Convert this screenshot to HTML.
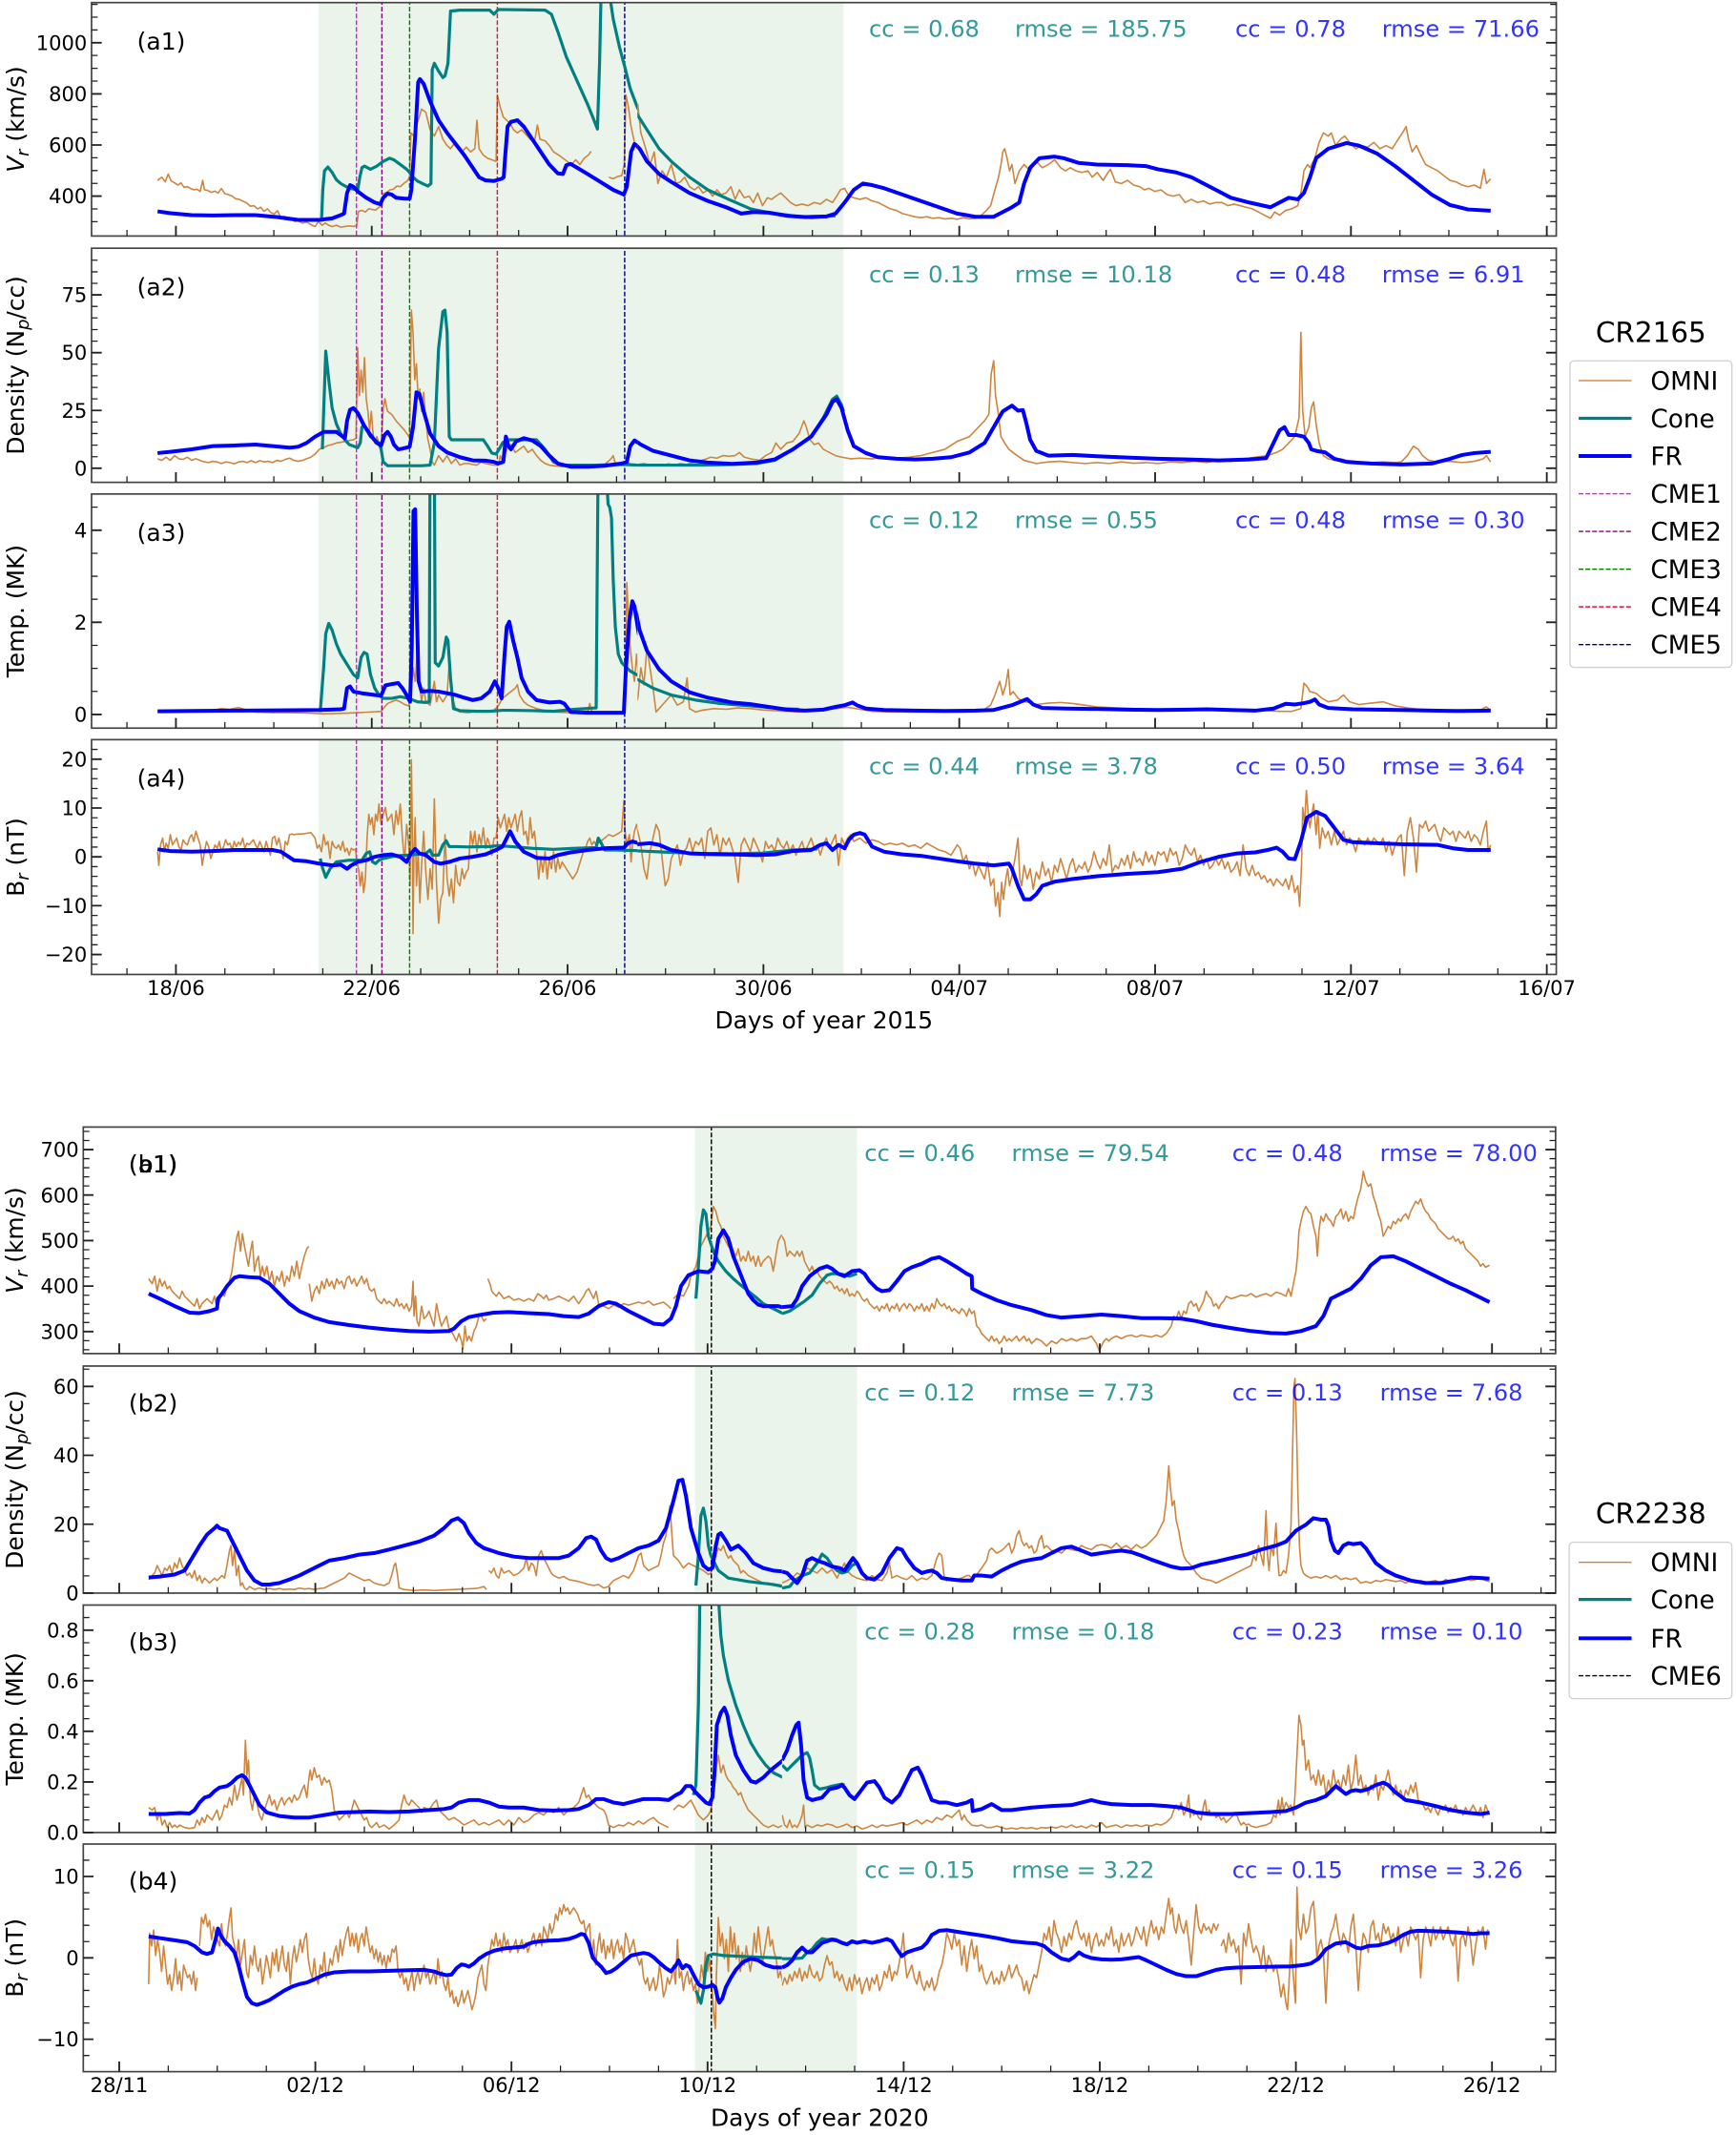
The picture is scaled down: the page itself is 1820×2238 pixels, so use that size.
<!DOCTYPE html>
<html><head><meta charset="utf-8">
<style>
html,body{margin:0;padding:0;background:#fff;}
svg{display:block;}
.o{fill:none;stroke:#CD853F;stroke-width:1.6;vector-effect:non-scaling-stroke;stroke-linejoin:round;}
.c{fill:none;stroke:#008080;stroke-width:3.2;vector-effect:non-scaling-stroke;stroke-linejoin:round;}
.f{fill:none;stroke:#0000FF;stroke-width:4;vector-effect:non-scaling-stroke;stroke-linejoin:round;}
.tl{font-size:14.8px;}
.st{font-size:17px;}
</style></head>
<body>
<svg width="1820" height="2238" viewBox="0 0 1280 1574" xmlns="http://www.w3.org/2000/svg" font-family="'DejaVu Sans','Liberation Sans',sans-serif">
<defs>
<clipPath id="cA1"><rect x="67.5" y="1.9" width="1080" height="172.1"/></clipPath>
<clipPath id="cA2"><rect x="67.5" y="183" width="1080" height="172.6"/></clipPath>
<clipPath id="cA3"><rect x="67.5" y="364.2" width="1080" height="172.6"/></clipPath>
<clipPath id="cA4"><rect x="67.5" y="545.3" width="1080" height="173.1"/></clipPath>
<clipPath id="cB1"><rect x="61.4" y="830.9" width="1085.6" height="167"/></clipPath>
<clipPath id="cB2"><rect x="61.4" y="1007.1" width="1085.6" height="167.4"/></clipPath>
<clipPath id="cB3"><rect x="61.4" y="1183.3" width="1085.6" height="167.7"/></clipPath>
<clipPath id="cB4"><rect x="61.4" y="1359.5" width="1085.6" height="167.8"/></clipPath>
<clipPath id="sL"><rect x="0" y="0" width="470" height="1574"/></clipPath>
<clipPath id="sR"><rect x="470" y="0" width="810" height="1574"/></clipPath>
<clipPath id="tL"><rect x="0" y="0" width="576.6" height="1574"/></clipPath>
<clipPath id="tR"><rect x="576.6" y="0" width="710" height="1574"/></clipPath>
<g id="cmeA" fill="none" stroke-width="1" stroke-dasharray="3.5 1.5">
<path d="M262.8 0V720" stroke="#FF00FF"/>
<path d="M281.6 0V720" stroke="#800080"/>
<path d="M302 0V720" stroke="#008000"/>
<path d="M366.7 0V720" stroke="#DC143C"/>
<path d="M460.6 0V720" stroke="#000080"/>
</g>
<path id="axM" stroke="#222" stroke-width="1.3" d="M129.7 0v-7.5M274.1 0v-7.5M418.5 0v-7.5M562.9 0v-7.5M707.3 0v-7.5M851.7 0v-7.5M996.1 0v-7.5M1140.5 0v-7.5"/>
<path id="axm" stroke="#222" stroke-width="0.9" d="M93.6 0v-4.5M165.8 0v-4.5M201.9 0v-4.5M238 0v-4.5M310.2 0v-4.5M346.3 0v-4.5M382.4 0v-4.5M454.6 0v-4.5M490.7 0v-4.5M526.8 0v-4.5M599 0v-4.5M635.1 0v-4.5M671.2 0v-4.5M743.4 0v-4.5M779.5 0v-4.5M815.6 0v-4.5M887.8 0v-4.5M923.9 0v-4.5M960 0v-4.5M1032.2 0v-4.5M1068.3 0v-4.5M1104.4 0v-4.5"/>
<path id="bxM" stroke="#222" stroke-width="1.3" d="M87.9 0v-7.5M232.5 0v-7.5M377.1 0v-7.5M521.7 0v-7.5M666.3 0v-7.5M810.9 0v-7.5M955.5 0v-7.5M1100.1 0v-7.5"/>
<path id="bxm" stroke="#222" stroke-width="0.9" d="M124.05 0v-4.5M160.2 0v-4.5M196.35 0v-4.5M268.65 0v-4.5M304.8 0v-4.5M340.95 0v-4.5M413.25 0v-4.5M449.4 0v-4.5M485.55 0v-4.5M557.85 0v-4.5M594 0v-4.5M630.15 0v-4.5M702.45 0v-4.5M738.6 0v-4.5M774.75 0v-4.5M847.05 0v-4.5M883.2 0v-4.5M919.35 0v-4.5M991.65 0v-4.5M1027.8 0v-4.5M1063.95 0v-4.5M1136.25 0v-4.5"/>
<path id="yaM" stroke="#222" stroke-width="1.3" d="M0 144.6h7.5M0 106.9h7.5M0 69.2h7.5M0 31.5h7.5M0 345.2h7.5M0 302.6h7.5M0 260h7.5M0 217.4h7.5M0 526.7h7.5M0 458.8h7.5M0 390.9h7.5M0 703.7h7.5M0 667.7h7.5M0 631.7h7.5M0 595.7h7.5M0 559.7h7.5"/>
<path id="yam" stroke="#222" stroke-width="0.9" d="M0 163.45h4.5M0 154h4.5M0 135.2h4.5M0 125.75h4.5M0 116.3h4.5M0 97.5h4.5M0 88.05h4.5M0 78.6h4.5M0 59.8h4.5M0 50.35h4.5M0 40.9h4.5M0 22.1h4.5M0 12.65h4.5M0 3.2h4.5M0 336.7h4.5M0 328.2h4.5M0 319.6h4.5M0 311.1h4.5M0 294.1h4.5M0 285.6h4.5M0 277h4.5M0 268.5h4.5M0 251.5h4.5M0 243h4.5M0 234.4h4.5M0 225.9h4.5M0 208.9h4.5M0 200.4h4.5M0 191.8h4.5M0 509.7h4.5M0 492.75h4.5M0 475.8h4.5M0 441.8h4.5M0 424.85h4.5M0 407.9h4.5M0 373.9h4.5M0 710.9h4.5M0 696.5h4.5M0 689.3h4.5M0 682.1h4.5M0 674.9h4.5M0 660.5h4.5M0 653.3h4.5M0 646.1h4.5M0 638.9h4.5M0 624.5h4.5M0 617.3h4.5M0 610.1h4.5M0 602.9h4.5M0 588.5h4.5M0 581.3h4.5M0 574.1h4.5M0 566.9h4.5M0 552.5h4.5"/>
<path id="ybM" stroke="#222" stroke-width="1.3" d="M0 981.7h7.5M0 948.15h7.5M0 914.6h7.5M0 881.05h7.5M0 847.5h7.5M0 1174.5h7.5M0 1123.7h7.5M0 1072.9h7.5M0 1022.1h7.5M0 1351h7.5M0 1313.7h7.5M0 1276.4h7.5M0 1239.1h7.5M0 1201.8h7.5M0 1503.4h7.5M0 1443.4h7.5M0 1383.4h7.5"/>
<path id="ybm" stroke="#222" stroke-width="0.9" d="M0 995.1h4.5M0 988.4h4.5M0 975h4.5M0 968.3h4.5M0 961.6h4.5M0 954.9h4.5M0 941.4h4.5M0 934.7h4.5M0 928h4.5M0 921.3h4.5M0 907.9h4.5M0 901.2h4.5M0 894.5h4.5M0 887.8h4.5M0 874.3h4.5M0 867.6h4.5M0 860.9h4.5M0 854.2h4.5M0 840.8h4.5M0 834.1h4.5M0 1161.8h4.5M0 1149.1h4.5M0 1136.4h4.5M0 1111h4.5M0 1098.3h4.5M0 1085.6h4.5M0 1060.2h4.5M0 1047.5h4.5M0 1034.8h4.5M0 1009.4h4.5M0 1341.7h4.5M0 1332.35h4.5M0 1323h4.5M0 1304.4h4.5M0 1295.05h4.5M0 1285.7h4.5M0 1267.1h4.5M0 1257.75h4.5M0 1248.4h4.5M0 1229.8h4.5M0 1220.45h4.5M0 1211.1h4.5M0 1192.5h4.5M0 1515.4h4.5M0 1491.4h4.5M0 1479.4h4.5M0 1467.4h4.5M0 1455.4h4.5M0 1431.4h4.5M0 1419.4h4.5M0 1407.4h4.5M0 1395.4h4.5M0 1371.4h4.5"/>
</defs>

<!-- ================= PANEL A1 ================= -->
<g clip-path="url(#cA1)">
<rect x="234.8" y="0" width="387.1" height="180" fill="#eaf4ea"/>
<g clip-path="url(#sL)"><g transform="matrix(0.31397 0 0 0.23326 0 0)">
<path class="o" d="M370,570L380,560 388,575 395,550 402,572 410,578 418,585 425,578 432,592 440,590 448,596 455,600 462,598 470,605 476,570 480,600 488,602 496,608 505,604 512,610 520,596 528,612 536,615 545,620 553,628 562,630 570,636 578,640 588,652 596,650 605,660 612,655 620,668 628,660 636,672 644,676 652,666 660,690 668,684 676,694 684,690 692,700 700,698 710,705 720,702 730,710 740,716 748,700 756,712 764,705 772,712 780,716 790,712 800,718 810,716 820,714 830,716 838,712 842,668 850,665 858,670 866,660 874,662 882,664 890,655 897,650 900,612 908,608 916,600 924,598 932,588 940,590 948,580 956,572 962,560 965,420 972,430 980,390 990,345 1000,355 1010,410 1020,430 1030,400 1040,440 1050,460 1058,470 1066,455 1075,470 1085,480 1095,465 1105,480 1115,470 1120,380 1125,470 1135,490 1145,500 1155,505 1165,510 1168,300 1175,340 1182,370 1190,380 1198,390 1206,410 1215,420 1225,410 1235,425 1245,440 1255,450 1262,395 1268,440 1280,445 1290,460 1300,480 1312,490 1322,500 1332,510 1342,520 1352,505 1362,520 1372,500 1382,490 1388,478M1430,560L1440,565 1450,558 1460,555 1466,520 1470,300 1476,340 1482,400 1490,450 1497,470 1530,490"/>
</g></g>
<g clip-path="url(#sR)"><g transform="matrix(0.44853 0 0 0.23326 450.1 0)">
<path class="o" d="M0,560L10,570 20,540 25,400 30,330 35,400 40,440 45,330 50,420 58,470 65,520 72,480 78,580 85,540 92,560 100,520 108,580 115,575 122,560 130,590 138,600 145,590 152,610 160,600 168,620 175,600 182,615 190,610 198,590 205,630 212,600 220,625 228,620 235,640 242,610 250,650 258,625 265,630 272,620 280,610 288,625 296,640 305,650 315,645 325,650 335,640 345,645 355,630 365,640 372,620 378,600 385,595 392,620 400,625 410,630 420,625 430,635 440,640 450,650 460,660 470,665 480,675 490,680 500,685 510,688 520,685 530,690 540,688 550,692 560,690 570,693 580,688 590,692 600,690 610,680 618,665 625,650 632,600 638,560 642,520 645,480 648,470 652,500 656,540 660,520 665,580 672,540 680,520 690,540 700,510 710,530 720,520 730,505 740,530 748,540 756,530 765,540 775,545 785,540 792,560 800,545 810,570 818,545 822,535 830,575 840,580 850,570 860,585 870,590 878,600 885,595 895,605 905,600 915,615 925,620 935,615 945,640 955,630 965,640 975,635 985,645 995,640 1005,640 1015,650 1025,645 1035,650 1045,655 1055,660 1065,670 1075,680 1085,690 1092,670 1100,680 1110,665 1120,660 1130,650 1136,600 1140,540 1146,520 1150,530 1158,500 1165,450 1172,420 1180,430 1185,420 1192,460 1200,440 1207,430 1215,450 1225,470 1235,460 1245,465 1255,450 1265,470 1275,460 1285,470 1295,440 1302,420 1308,400 1312,440 1318,480 1325,460 1332,490 1340,520 1350,530 1360,540 1370,555 1380,570 1390,575 1400,585 1410,590 1420,585 1430,595 1436,535 1440,580 1447,565"/>
</g></g>
<use href="#cmeA"/>
<g clip-path="url(#sL)"><g transform="matrix(0.31397 0 0 0.23326 0 0)">
<path class="c" d="M755,700L758,600 762,540 770,528 780,545 790,568 800,580 820,595 840,600 845,560 850,530 856,525 870,535 885,525 900,510 915,500 925,505 940,520 955,535 962,545 970,560 980,572 995,582 1005,588 1012,580 1015,220 1020,200 1030,225 1040,245 1045,240 1052,200 1058,35 1080,32 1150,32 1160,45 1170,30 1280,32 1295,45 1310,100 1330,180 1360,270 1380,330 1395,380 1403,408 1408,200 1412,-50 1428,-50 1440,60 1455,150 1467,210 1480,280 1497,340 1520,400"/>
<path class="f" d="M370,668L400,674 450,680 500,681 550,680 600,680 650,686 700,695 750,695 780,690 800,680 808,675 815,610 822,585 830,590 840,605 860,625 880,640 893,645 900,625 910,612 920,615 930,625 950,628 962,628 966,600 975,430 982,260 986,250 995,265 1010,320 1030,380 1050,420 1070,455 1090,490 1110,530 1125,560 1140,570 1160,572 1178,565 1183,560 1186,500 1192,400 1200,385 1215,380 1230,400 1250,440 1270,480 1290,520 1310,548 1322,550 1330,522 1340,518 1355,530 1380,550 1410,575 1440,600 1465,615 1472,590 1482,480 1490,455 1497,462 1520,500"/>
</g></g>
<g clip-path="url(#sR)"><g transform="matrix(0.44853 0 0 0.23326 450.1 0)">
<path class="c" d="M0,140L10,210 20,260 40,350 60,410 80,470 100,510 130,560 160,600 200,635 230,660 260,672 300,682 330,688 370,682"/>
<path class="f" d="M0,600L15,610 25,615 32,520 40,455 48,470 60,510 80,550 100,575 130,610 160,635 190,655 215,675 235,670 260,672 290,682 320,686 355,684 370,675 385,640 400,600 415,580 430,585 450,595 480,615 510,635 540,655 570,675 600,685 630,685 645,670 660,655 672,640 680,580 690,530 705,500 730,495 745,500 770,515 800,520 850,522 880,525 900,535 930,545 955,560 980,585 1000,605 1020,625 1050,640 1085,655 1100,640 1115,625 1130,630 1140,610 1150,560 1160,500 1180,470 1210,452 1230,460 1260,485 1290,525 1320,570 1350,615 1380,648 1410,662 1447,666"/>
</g></g>
</g>

<!-- ================= PANEL A2 ================= -->
<g clip-path="url(#cA2)">
<rect x="234.8" y="180" width="387.1" height="180" fill="#eaf4ea"/>
<g clip-path="url(#sL)"><g transform="matrix(0.31397 0 0 0.23326 0 0)">
<path class="o" d="M370,1450L380,1455 390,1445 400,1455 410,1440 420,1450 430,1452 440,1445 450,1455 460,1450 470,1455 480,1460 490,1462 500,1458 510,1460 520,1465 530,1460 540,1462 550,1466 560,1460 570,1458 580,1462 590,1456 600,1462 610,1456 620,1460 630,1458 640,1462 650,1455 660,1458 670,1452 680,1448 690,1455 700,1458 710,1455 720,1450 730,1445 740,1435 750,1420 760,1415 770,1408 780,1405 790,1400 800,1398 810,1395 820,1392 830,1390 836,1385 840,1100 844,1250 848,1170 852,1240 856,1130 860,1260 864,1300 868,1360 872,1300 876,1370 880,1400 885,1380 890,1400 895,1410 900,1290 904,1260 910,1300 920,1310 930,1330 940,1345 950,1360 958,1375 962,1385 966,980 970,1050 974,1200 978,1150 982,1260 986,1230 990,1300 995,1240 1000,1330 1005,1390 1010,1420 1015,1460 1020,1470 1030,1440 1040,1460 1050,1440 1060,1465 1070,1450 1080,1470 1090,1465 1100,1465 1110,1468 1120,1470 1130,1460 1140,1465 1150,1468 1160,1470 1170,1470 1175,1440 1180,1460 1190,1420 1200,1405 1210,1430 1220,1420 1230,1410 1240,1430 1250,1420 1260,1440 1270,1455 1280,1465 1290,1470 1300,1472 1320,1475 1340,1474 1360,1470 1380,1472 1400,1470 1420,1468 1435,1450 1440,1440 1445,1465 1460,1465 1470,1460 1480,1466 1497,1468 1520,1465"/>
</g></g>
<g clip-path="url(#sR)"><g transform="matrix(0.44853 0 0 0.23326 450.1 0)">
<path class="o" d="M0,1450L8,1460 15,1448 25,1465 35,1462 45,1468 55,1465 65,1470 75,1468 85,1472 95,1466 105,1470 115,1465 125,1468 135,1462 145,1458 155,1452 165,1445 175,1448 185,1440 195,1442 205,1440 212,1430 220,1445 230,1450 245,1455 255,1440 265,1430 272,1400 280,1420 290,1400 300,1395 310,1370 318,1330 322,1350 328,1390 335,1405 342,1400 350,1420 360,1430 370,1440 380,1445 395,1450 410,1448 430,1450 450,1445 470,1448 490,1445 510,1440 530,1430 550,1420 570,1395 590,1380 605,1350 615,1330 622,1310 626,1180 630,1140 633,1250 637,1300 642,1380 648,1400 655,1420 665,1435 680,1455 700,1465 720,1460 740,1458 760,1462 780,1465 800,1462 820,1465 840,1460 860,1464 880,1462 900,1465 920,1460 940,1462 960,1458 980,1462 1000,1455 1020,1458 1040,1450 1060,1445 1080,1440 1095,1430 1105,1420 1115,1400 1125,1380 1132,1320 1135,1050 1138,1300 1142,1380 1148,1350 1152,1290 1156,1270 1160,1340 1165,1400 1172,1440 1180,1450 1190,1455 1200,1450 1210,1455 1230,1460 1250,1462 1270,1460 1290,1462 1300,1460 1310,1440 1320,1410 1328,1420 1335,1440 1345,1455 1360,1460 1380,1458 1400,1462 1420,1458 1435,1450 1440,1440 1447,1460"/>
</g></g>
<use href="#cmeA"/>
<g clip-path="url(#sL)"><g transform="matrix(0.31397 0 0 0.23326 0 0)">
<path class="c" d="M757,1420L765,1110 772,1200 780,1290 790,1340 800,1370 810,1390 820,1405 830,1410 840,1415 846,1400 850,1350 855,1345 862,1360 870,1380 880,1390 890,1400 895,1420 900,1460 910,1472 930,1472 960,1472 990,1472 1010,1470 1020,1400 1030,1100 1040,985 1045,980 1050,1050 1055,1380 1060,1390 1100,1390 1135,1390 1145,1410 1155,1432 1165,1435 1172,1420 1180,1400 1190,1390 1260,1390 1280,1420 1300,1460 1320,1470 1400,1470 1460,1468 1497,1470 1520,1470"/>
<path class="f" d="M370,1432L400,1428 450,1420 500,1410 550,1408 600,1405 640,1410 680,1415 700,1412 720,1400 740,1380 760,1365 790,1365 800,1375 810,1385 815,1330 822,1295 830,1290 840,1305 855,1345 870,1375 885,1400 895,1408 903,1375 910,1365 918,1380 925,1405 935,1420 945,1418 962,1412 970,1350 978,1240 985,1245 995,1300 1010,1370 1030,1410 1050,1430 1080,1445 1110,1455 1140,1456 1160,1460 1170,1465 1182,1460 1188,1380 1194,1410 1200,1420 1212,1395 1230,1385 1250,1392 1270,1410 1290,1440 1310,1465 1340,1475 1380,1475 1420,1472 1460,1465 1472,1460 1480,1410 1490,1392 1497,1398 1520,1415"/>
</g></g>
<g clip-path="url(#sR)"><g transform="matrix(0.44853 0 0 0.23326 450.1 0)">
<path class="c" d="M0,1470L100,1470 150,1470 200,1468 240,1465 270,1455 300,1420 330,1380 350,1320 365,1262 372,1252 380,1280 383,1300"/>
<path class="f" d="M0,1470L20,1470 30,1420 40,1392 50,1405 70,1425 100,1440 130,1455 160,1462 200,1466 240,1462 270,1452 300,1420 330,1380 355,1310 365,1270 372,1262 380,1290 390,1360 400,1410 420,1432 440,1445 470,1450 500,1452 530,1450 560,1445 590,1430 615,1400 630,1350 645,1300 660,1282 670,1298 678,1296 684,1340 690,1390 700,1425 720,1440 760,1438 800,1442 850,1446 900,1450 950,1452 1000,1455 1050,1452 1078,1448 1090,1400 1100,1360 1108,1350 1115,1375 1128,1375 1140,1380 1148,1400 1152,1420 1160,1425 1175,1430 1190,1450 1210,1460 1250,1465 1300,1468 1350,1465 1380,1450 1400,1438 1420,1432 1447,1428"/>
</g></g>
</g>

<!-- ================= PANEL A3 ================= -->
<g clip-path="url(#cA3)">
<rect x="234.8" y="360" width="387.1" height="180" fill="#eaf4ea"/>
<g clip-path="url(#sL)"><g transform="matrix(0.31397 0 0 0.25119 0 351.6)">
<path class="o" d="M370,690L400,688 430,686 460,684 490,686 520,680 540,682 560,677 580,684 600,690 640,692 680,692 720,693 760,695 800,694 840,692 870,690 895,688 900,680 910,665 920,660 930,655 940,660 950,668 960,672 965,640 970,560 975,600 980,510 985,600 990,660 995,620 1000,660 1010,670 1020,600 1025,660 1030,640 1040,660 1050,640 1055,545 1060,640 1070,680 1080,690 1100,692 1120,688 1140,690 1160,685 1170,672 1180,650 1190,640 1200,630 1210,620 1215,610 1220,640 1230,660 1240,670 1260,680 1280,686 1300,690 1340,692 1380,690 1385,665 1390,690 1420,692 1460,692 1468,690 1472,310 1476,420 1480,500 1485,560 1490,600 1495,520 1500,600 1510,640 1520,680 1530,600 1535,480 1540,560 1548,640 1560,670 1568,680"/>
</g></g>
<g clip-path="url(#sR)"><g transform="matrix(0.44853 0 0 0.25119 450.1 351.6)">
<path class="o" d="M0,680L10,690 18,600 22,400 25,310 28,480 32,600 38,680 45,650 50,560 55,610 60,500 65,560 70,620 75,690 80,680 90,660 100,640 110,670 120,660 126,590 130,680 140,690 150,685 170,680 190,682 210,678 230,680 250,684 270,686 290,688 310,690 330,688 350,684 370,680 390,676 410,682 430,688 460,690 500,690 540,690 580,690 610,688 625,670 632,640 640,600 645,640 650,610 654,565 657,640 662,630 670,650 680,660 690,662 700,668 720,664 740,662 760,665 780,670 800,675 830,678 860,680 900,682 950,683 1000,684 1050,685 1080,686 1100,688 1120,688 1135,680 1140,605 1145,615 1150,630 1160,635 1170,650 1180,660 1195,655 1205,640 1215,660 1230,668 1250,664 1270,660 1290,672 1310,678 1330,682 1350,684 1380,686 1400,688 1430,684 1440,675 1447,685"/>
</g></g>
<use href="#cmeA"/>
<g clip-path="url(#sL)"><g transform="matrix(0.31397 0 0 0.25119 0 351.6)">
<path class="c" d="M752,690L760,560 765,460 772,430 780,450 790,490 800,520 815,550 830,580 840,590 848,530 855,515 862,520 870,580 880,620 890,640 900,650 920,650 940,645 960,650 980,660 1000,662 1008,660 1010,-100 1020,-100 1022,545 1030,555 1040,530 1048,470 1052,480 1058,590 1065,680 1080,686 1120,688 1150,688 1180,685 1200,685 1250,686 1300,688 1350,682 1400,678 1405,-100 1420,-100 1428,80 1432,90 1436,120 1440,300 1445,440 1452,520 1460,545 1480,570 1510,590 1540,610 1568,625"/>
<path class="f" d="M370,688L450,687 550,686 650,685 750,684 800,682 808,680 815,620 822,615 830,630 850,635 880,640 895,642 905,612 920,608 935,605 945,620 955,640 963,660 967,500 971,100 975,95 979,400 983,600 990,630 1010,628 1030,630 1050,635 1070,640 1090,648 1110,655 1130,650 1150,630 1162,600 1170,620 1178,650 1185,520 1190,440 1196,425 1205,480 1215,530 1225,590 1240,630 1260,655 1290,662 1315,660 1325,665 1340,690 1380,692 1420,692 1465,692 1470,560 1478,420 1485,365 1490,380 1500,460 1515,510 1535,545 1555,575 1568,590"/>
</g></g>
<g clip-path="url(#sR)"><g transform="matrix(0.44853 0 0 0.25119 450.1 351.6)">
<path class="c" d="M0,100L5,400 10,540 20,570 40,590 70,620 100,640 140,655 180,665 230,672 280,680 310,682"/>
<path class="f" d="M0,690L25,690 30,540 35,365 40,380 48,450 60,510 80,565 100,600 130,632 160,648 200,662 230,667 260,675 290,683 320,686 350,683 370,675 385,670 398,662 405,670 420,680 450,684 500,686 550,687 600,686 630,684 660,670 685,652 695,668 710,678 750,680 800,681 850,683 900,684 950,683 980,682 1020,684 1060,686 1090,680 1110,666 1125,668 1140,664 1150,660 1158,653 1165,668 1180,678 1220,682 1260,683 1300,684 1350,686 1400,687 1447,686"/>
</g></g>
</g>

<!-- ================= PANEL A4 ================= -->
<g clip-path="url(#cA4)">
<rect x="234.8" y="540" width="387.1" height="182" fill="#eaf4ea"/>
<g clip-path="url(#sL)"><g transform="matrix(0.31397 0 0 0.25119 0 351.6)">
<path class="o" d="M370,1100L373,1140 377,1080 382,1060 386,1100 390,1075 395,1090 400,1050 405,1080 410,1070 415,1060 420,1085 425,1095 430,1065 435,1075 440,1080 445,1060 450,1050 455,1070 460,1040 465,1060 470,1080 475,1140 480,1100 485,1070 490,1085 495,1120 500,1100 505,1080 510,1090 515,1070 520,1100 525,1085 530,1065 535,1080 540,1075 545,1095 550,1070 555,1085 560,1072 565,1080 570,1060 575,1090 580,1075 585,1080 590,1072 595,1065 600,1080 605,1090 610,1070 615,1085 620,1100 625,1070 630,1090 635,1110 640,1060 645,1055 650,1080 655,1060 660,1090 665,1120 670,1070 675,1080 680,1050 685,1048 690,1050 700,1048 710,1048 720,1046 730,1044 740,1060 745,1090 750,1080 755,1100 760,1050 765,1080 770,1070 775,1120 780,1070 785,1085 790,1090 795,1080 800,1095 805,1070 810,1100 815,1090 820,1110 825,1090 830,1095 835,1092 838,1130 842,1150 846,1200 850,1160 854,1220 858,1180 862,1060 866,990 870,1020 874,1000 878,1050 882,990 886,1010 890,960 895,1020 900,990 905,970 910,1010 915,1000 920,990 925,1050 930,980 935,1020 940,960 945,1060 950,1130 955,1020 960,1080 963,1200 966,830 968,1010 970,1340 972,1100 975,1000 978,1200 982,1100 986,1250 990,1140 995,1040 1000,1160 1005,1240 1010,1150 1015,1210 1020,945 1025,1190 1030,1310 1035,1240 1040,1220 1045,1050 1050,1180 1055,1230 1060,1180 1065,1250 1070,1140 1075,1190 1080,1200 1085,1150 1090,1180 1095,1160 1100,1150 1105,1040 1110,1080 1115,1040 1120,1100 1125,1050 1130,1080 1135,1030 1140,1090 1145,1060 1150,1080 1155,1110 1160,1060 1165,1060 1170,1000 1175,1030 1180,1010 1185,990 1190,1040 1195,1000 1200,1030 1205,1010 1210,990 1215,1040 1220,1000 1225,980 1230,1050 1235,1040 1240,1080 1245,1000 1250,1060 1255,1040 1260,1100 1265,1180 1270,1120 1275,1160 1280,1100 1285,1180 1290,1120 1295,1150 1300,1100 1305,1160 1310,1120 1315,1150 1320,1130 1325,1140 1330,1150 1335,1160 1340,1170 1345,1180 1350,1170 1355,1160 1360,1140 1365,1120 1370,1100 1375,1090 1380,1070 1385,1060 1390,1080 1395,1070 1400,1080 1410,1070 1420,1060 1430,1050 1440,1055 1450,1048 1460,1040 1465,950 1468,1040 1472,1080 1478,1050 1482,1130 1486,1070 1490,1040 1495,1020 1500,1050 1505,1010 1510,1060 1515,1080 1520,1100 1525,1060 1530,1030 1535,1080 1540,1140 1545,1050 1550,1120 1555,1100 1560,1110 1568,1090"/>
</g></g>
<g clip-path="url(#sR)"><g transform="matrix(0.44853 0 0 0.25119 450.1 351.6)">
<path class="o" d="M0,1060L5,1080 10,1040 15,1050 20,1000 23,950 26,1040 30,1100 35,1060 40,1020 45,1040 50,1080 55,1150 60,1180 65,1100 70,1060 75,1020 80,1040 85,1120 90,1200 95,1180 100,1120 105,1100 110,1080 115,1140 120,1100 125,1090 130,1060 135,1100 140,1070 145,1080 150,1060 155,1120 160,1040 165,1030 170,1080 175,1050 180,1110 185,1060 190,1080 195,1060 200,1090 205,1120 210,1190 215,1080 220,1060 225,1080 230,1100 235,1060 240,1080 245,1100 250,1130 255,1070 260,1090 265,1080 270,1100 275,1060 280,1080 285,1090 290,1070 295,1100 300,1080 305,1110 310,1090 315,1070 320,1100 325,1080 330,1060 335,1090 340,1080 345,1110 350,1080 355,1060 360,1090 365,1070 370,1050 375,1140 380,1060 385,1080 390,1060 395,1050 400,1070 410,1060 420,1075 430,1065 440,1070 450,1080 460,1075 470,1080 480,1075 490,1085 500,1080 510,1090 520,1075 530,1085 540,1095 550,1100 560,1110 570,1080 575,1090 580,1130 585,1110 590,1150 595,1130 600,1170 605,1140 610,1160 615,1180 620,1130 625,1200 630,1180 633,1260 637,1220 640,1290 643,1190 646,1240 650,1180 653,1150 656,1200 660,1170 665,1120 670,1060 673,1180 676,1200 680,1140 685,1180 690,1150 695,1210 700,1160 705,1180 710,1130 715,1170 720,1150 725,1190 730,1140 735,1160 740,1120 745,1150 750,1180 755,1140 760,1120 765,1160 770,1140 775,1150 780,1130 785,1160 790,1140 795,1100 800,1130 805,1150 810,1120 815,1140 820,1080 825,1160 830,1140 835,1150 840,1120 845,1140 850,1110 855,1150 860,1100 865,1130 870,1120 875,1140 880,1100 885,1130 890,1110 895,1140 900,1100 905,1110 910,1100 915,1130 920,1090 925,1110 930,1100 935,1140 940,1120 945,1080 950,1100 955,1110 960,1090 965,1130 970,1110 975,1140 980,1120 985,1150 990,1140 995,1120 1000,1140 1005,1120 1010,1150 1015,1130 1020,1160 1025,1150 1030,1130 1035,1170 1040,1080 1045,1150 1050,1170 1055,1140 1060,1170 1065,1160 1070,1180 1075,1170 1080,1190 1085,1180 1090,1200 1095,1180 1100,1190 1105,1200 1110,1180 1115,1210 1120,1170 1125,1220 1130,1200 1133,1260 1136,1140 1138,970 1141,1020 1144,920 1147,990 1150,1030 1153,990 1156,960 1160,1050 1163,980 1166,1090 1170,1030 1175,1060 1180,1040 1185,1080 1190,1040 1195,1080 1200,1060 1205,1040 1210,1080 1215,1060 1220,1070 1225,1100 1230,1060 1235,1070 1240,1080 1245,1060 1250,1080 1255,1060 1260,1070 1265,1080 1270,1060 1275,1100 1280,1070 1285,1110 1290,1080 1295,1060 1300,1050 1305,1170 1310,1040 1315,1000 1320,1060 1325,1160 1330,1020 1335,1030 1340,1010 1345,1040 1350,1030 1355,1020 1360,1050 1365,1070 1370,1030 1375,1040 1380,1050 1385,1040 1390,1070 1395,1040 1400,1050 1405,1060 1410,1040 1415,1070 1420,1050 1425,1060 1430,1080 1435,1040 1440,1010 1443,1100 1447,1080"/>
</g></g>
<use href="#cmeA"/>
<g clip-path="url(#sL)"><g transform="matrix(0.31397 0 0 0.25119 0 351.6)">
<path class="c" d="M752,1120L758,1150 765,1175 775,1150 790,1130 820,1125 850,1125 860,1105 868,1100 875,1130 882,1135 890,1125 900,1120 930,1112 960,1110 1000,1105 1010,1095 1015,1110 1030,1110 1040,1080 1048,1068 1055,1085 1070,1085 1100,1086 1150,1085 1170,1082 1200,1085 1250,1090 1300,1093 1350,1090 1400,1088 1405,1060 1412,1075 1420,1095 1450,1095 1500,1097 1568,1100"/>
<path class="f" d="M370,1093L400,1098 450,1100 500,1098 550,1095 600,1095 640,1095 660,1100 690,1125 720,1128 750,1135 780,1140 800,1138 815,1150 825,1140 840,1130 860,1125 880,1115 900,1110 920,1108 940,1115 955,1130 965,1105 975,1092 985,1105 1000,1110 1020,1130 1035,1135 1055,1130 1080,1120 1110,1115 1140,1108 1165,1095 1180,1085 1190,1060 1198,1040 1210,1070 1230,1100 1260,1118 1290,1120 1310,1110 1340,1102 1380,1095 1420,1090 1465,1088 1475,1075 1485,1070 1500,1075 1530,1075 1568,1090"/>
</g></g>
<g clip-path="url(#sR)"><g transform="matrix(0.44853 0 0 0.25119 450.1 351.6)">
<path class="c" d="M0,1095L50,1098 100,1102 150,1105 200,1106 250,1104 300,1095 340,1092"/>
<path class="f" d="M0,1090L25,1090 35,1070 45,1078 65,1075 80,1080 100,1095 130,1105 160,1107 200,1108 240,1110 270,1108 300,1098 330,1095 345,1080 355,1075 365,1095 375,1080 385,1090 392,1065 400,1050 410,1045 418,1050 430,1085 450,1100 480,1108 510,1112 540,1120 570,1128 600,1135 630,1140 655,1135 660,1150 670,1200 680,1240 690,1240 700,1225 710,1200 730,1188 760,1180 800,1172 850,1165 900,1160 940,1150 970,1130 1000,1115 1030,1105 1060,1102 1080,1095 1095,1088 1105,1100 1115,1120 1125,1122 1135,1070 1145,1000 1160,983 1175,995 1190,1030 1205,1065 1220,1072 1260,1075 1300,1078 1360,1080 1385,1090 1410,1095 1447,1095"/>
</g></g>
</g>

<!-- ================= PANEL B1 ================= -->
<g clip-path="url(#cB1)">
<rect x="512.4" y="825" width="119.5" height="180" fill="#eaf4ea"/>
<g clip-path="url(#tL)"><g transform="matrix(0.36782 0 0 0.36782 0 815.8)">
<path class="o" d="M298,345L305,355 310,340 315,370 320,345 325,360 330,350 335,365 340,360 345,370 350,375 355,380 360,385 365,370 370,380 375,385 380,390 385,395 390,400 395,385 400,405 405,395 410,390 415,385 420,390 425,395 430,380 435,405 440,390 445,370 450,380 455,360 460,350 465,330 470,290 475,260 478,250 482,290 486,255 490,280 494,300 498,320 502,290 506,270 510,330 514,310 518,300 522,340 526,320 530,340 535,320 540,350 545,330 550,360 555,340 560,350 565,330 570,360 575,340 580,350 585,320 590,340 595,310 600,345 605,320 610,300 615,285 619,280M620,355L625,390 630,370 635,360 640,375 645,350 650,365 655,345 660,360 665,350 670,365 675,345 680,355 685,350 690,365 695,345 700,340 705,355 710,345 715,360 720,350 725,340 730,355 735,345 740,365 745,370 750,365 755,385 760,390 765,395 770,385 775,395 780,390 785,395 790,400 795,385 800,400 805,395 810,405 815,395 820,410 825,400 828,350 830,420 833,380 836,430 840,440 845,400 850,425 855,420 860,410 865,425 870,440 875,395 880,420 885,440 890,430 895,420 900,445 905,450 910,460 915,470 920,455 925,470 928,485 932,440 936,470 940,460 945,470 950,450 955,440 960,420 965,420 970,430 975,425M978,345L982,355 986,370 990,375 995,380 1000,372 1010,385 1020,380 1030,388 1040,385 1050,390 1060,385 1070,390 1078,375 1085,380 1090,385 1095,378 1100,388 1110,385 1120,380 1130,385 1140,390 1150,380 1160,395 1170,380 1175,370 1180,365 1185,375 1190,385 1195,370 1200,395 1210,400 1220,405 1230,398 1240,402 1250,395 1260,398 1270,395 1280,392 1290,395 1300,390 1310,398 1320,395 1330,392 1340,400 1345,405M1350,385L1360,375 1370,380 1380,360 1385,340 1390,330 1395,320 1400,300 1405,280 1410,270 1415,260 1420,250 1425,240 1430,200 1435,210 1440,230 1445,240 1450,260 1455,270 1460,280 1465,285 1470,290 1475,300 1480,285 1485,310 1490,300 1495,310 1500,290 1505,310 1510,300 1515,320 1520,300 1525,320 1530,310 1540,300 1545,305 1550,330 1555,300 1560,270 1565,260 1570,255"/>
</g></g>
<g clip-path="url(#tR)"><g transform="matrix(0.36782 0 0 0.36782 576.7 815.8)">
<path class="o" d="M0,260L5,270 10,300 15,290 20,295 25,300 30,290 35,300 40,290 45,310 50,320 55,330 60,320 65,335 70,330 75,340 80,345 85,350 90,355 95,350 100,355 105,365 110,360 115,370 120,365 125,375 130,365 135,380 140,375 145,380 150,370 155,375 160,385 165,390 170,385 175,395 180,400 185,405 190,400 195,410 200,400 205,405 210,395 215,410 220,400 225,405 230,395 235,410 240,400 245,395 250,405 255,395 260,400 265,410 270,400 275,405 280,395 285,410 290,400 295,410 300,395 305,405 310,385 315,395 320,400 325,395 330,405 335,400 340,410 345,405 350,410 355,415 360,405 365,410 370,420 375,405 380,415 385,410 390,440 395,445 400,455 405,460 410,465 415,470 420,460 425,470 430,465 435,475 440,470 445,460 450,470 455,465 460,470 465,465 470,460 475,470 480,465 485,460 490,470 495,465 500,475 510,465 520,470 530,480 540,470 550,475 560,465 570,470 580,465 590,470 600,465 610,465 620,460 630,475 636,490 640,480 645,470 650,465 655,470 660,465 670,460 680,465 690,460 700,458 710,462 720,458 730,460 740,462 750,458 760,462 770,455 780,440 785,420 790,425 795,410 800,425 805,410 810,415 815,395 820,390 825,400 830,395 835,410 840,400 845,390 850,370 855,380 860,385 865,400 870,395 875,405 880,395 885,390 890,380 900,385 910,382 920,378 930,380 940,375 950,382 960,378 970,375 980,380 990,372 1000,375 1010,380 1015,365 1020,380 1025,355 1030,330 1033,300 1036,250 1040,230 1045,210 1050,200 1055,210 1060,215 1065,240 1070,260 1073,300 1076,250 1080,220 1085,230 1090,215 1095,225 1100,230 1105,240 1110,220 1115,215 1120,205 1125,225 1130,210 1135,230 1140,220 1145,225 1150,200 1155,180 1160,165 1165,130 1170,150 1175,160 1180,155 1185,180 1190,195 1195,215 1200,230 1205,260 1210,250 1215,240 1220,245 1225,230 1230,235 1235,225 1240,230 1245,220 1250,215 1255,225 1260,210 1265,200 1270,190 1275,195 1280,185 1285,200 1290,210 1295,215 1300,225 1305,230 1310,235 1315,245 1320,250 1325,255 1330,260 1335,265 1340,265 1345,260 1350,270 1355,265 1360,275 1365,270 1370,285 1375,290 1380,295 1385,300 1390,305 1395,310 1400,320 1405,315 1410,322 1418,318"/>
</g></g>
<path d="M524.5 820V1000" stroke="#000" stroke-width="1" stroke-dasharray="3.5 1.5" fill="none"/>
<g clip-path="url(#tL)"><g transform="matrix(0.36782 0 0 0.36782 0 815.8)">
<path class="c" d="M1395,385L1400,320 1405,240 1410,207 1415,215 1420,260 1430,290 1440,310 1455,330 1470,345 1485,358 1500,370 1515,382 1530,395 1550,405 1570,415"/>
<path class="f" d="M298,375L320,385 350,400 380,413 400,414 420,410 435,405 437,385 445,375 455,360 470,343 480,340 500,342 520,343 540,355 560,375 580,395 600,410 630,423 660,432 700,438 740,443 780,447 820,450 860,451 900,450 910,445 925,430 940,422 960,418 990,413 1020,412 1060,414 1100,416 1130,420 1160,422 1180,415 1200,400 1220,392 1235,395 1260,410 1290,425 1310,435 1330,437 1345,425 1355,400 1365,360 1380,338 1400,330 1420,332 1428,325 1433,310 1440,265 1450,248 1460,265 1470,300 1480,325 1490,350 1500,375 1510,388 1520,397 1530,400 1545,400 1560,400 1570,403"/>
</g></g>
<g clip-path="url(#tR)"><g transform="matrix(0.36782 0 0 0.36782 576.7 815.8)">
<path class="c" d="M0,415L15,410 30,400 45,390 60,378 75,355 90,338 100,335 110,335 120,336 135,340 150,335"/>
<path class="f" d="M0,402L20,400 30,385 40,360 55,340 75,325 90,320 100,325 112,335 125,340 140,330 155,328 165,335 175,350 190,365 200,370 215,368 230,350 245,330 260,322 280,315 300,305 315,302 330,310 350,322 370,335 380,340 381,365 400,375 430,388 460,398 500,408 530,418 560,423 600,420 640,417 680,420 720,424 760,424 800,425 830,430 860,437 900,444 940,450 980,454 1010,455 1040,450 1070,440 1085,420 1100,385 1120,375 1140,365 1160,345 1180,318 1200,302 1225,300 1250,310 1280,325 1310,340 1340,355 1370,368 1400,383 1418,392"/>
</g></g>
</g>

<!-- ================= PANEL B2 ================= -->
<g clip-path="url(#cB2)">
<rect x="512.4" y="1002" width="119.5" height="180" fill="#eaf4ea"/>
<g clip-path="url(#tL)"><g transform="matrix(0.36782 0 0 0.36782 0 815.8)">
<path class="o" d="M298,948L305,940 310,935 315,920 320,930 325,940 330,925 335,930 340,920 345,935 350,915 355,925 360,905 365,920 370,930 375,940 380,935 385,945 390,930 395,950 400,940 405,955 410,945 415,950 420,955 425,950 430,945 435,950 440,945 445,940 450,945 455,920 460,890 463,880 466,920 470,890 474,940 478,920 482,960 486,955 490,965 495,968 500,962 510,968 520,965 530,968 540,966 550,968 560,966 570,968 580,967 590,968 600,965 610,967 620,966 630,968 640,966 650,965 660,960 670,955 680,950 690,945 700,935 710,940 720,945 730,950 740,948 750,955 760,958 770,960 780,955 785,940 790,920 793,915 797,940 800,965 810,968 830,970 850,969 870,970 890,969 910,968 930,967 950,966 960,965 970,962 975,968M980,930L985,935 990,925 995,940 1000,945 1005,925 1010,935 1020,930 1030,940 1040,935 1050,925 1055,905 1060,930 1065,915 1070,920 1075,940 1080,900 1085,890 1090,905 1095,915 1100,925 1105,935 1110,940 1120,945 1130,942 1140,948 1150,950 1160,952 1170,955 1180,958 1190,960 1200,958 1210,965 1220,962 1225,955 1230,950 1240,945 1250,940 1260,945 1270,930 1280,900 1285,895 1290,920 1300,930 1310,925 1320,920 1325,900 1330,875 1335,860 1340,820 1343,800 1347,860 1350,900 1360,910 1370,925 1380,915 1390,920 1400,925 1410,930 1420,938 1425,935 1430,920 1435,900 1440,885 1445,890 1450,880 1455,895 1460,905 1465,900 1470,910 1475,915 1480,920 1485,935 1490,930 1500,940 1510,945 1520,950 1530,955 1540,955 1550,960 1560,958 1570,960"/>
</g></g>
<g clip-path="url(#tR)"><g transform="matrix(0.36782 0 0 0.36782 576.7 815.8)">
<path class="o" d="M0,955L10,950 20,945 30,935 40,940 50,925 60,930 70,935 80,925 90,935 100,928 110,945 120,925 125,915 130,930 140,940 150,945 160,948 170,950 180,940 190,948 200,950 210,935 215,915 220,945 230,940 240,945 250,948 260,940 270,950 280,945 290,948 300,940 310,905 315,895 320,900 325,945 330,950 340,945 350,948 360,945 370,940 375,940 380,945 390,938 400,925 410,910 415,890 420,885 425,890 430,895 440,890 450,880 455,875 460,895 465,885 470,860 475,850 480,870 485,880 490,875 495,885 500,880 505,895 510,890 515,870 520,860 525,885 530,880 540,890 550,890 560,895 570,885 580,888 590,890 600,880 610,885 620,888 630,880 640,878 650,880 660,885 670,875 680,885 690,880 700,888 710,878 720,885 730,880 740,870 750,860 755,850 760,840 765,830 770,790 775,720 778,760 782,800 786,790 790,830 795,850 800,880 805,900 810,910 815,915 820,920 830,935 840,945 850,948 860,950 870,955 880,950 890,945 900,940 910,935 920,930 930,925 940,920 945,900 950,910 955,880 960,900 965,920 970,810 973,900 976,930 980,880 985,900 990,835 993,900 996,940 1000,940 1005,930 1010,935 1015,900 1020,840 1023,700 1026,560 1028,545 1031,640 1034,780 1037,880 1040,920 1045,935 1050,940 1060,945 1070,942 1080,945 1090,940 1100,945 1110,940 1120,948 1130,945 1140,948 1150,945 1160,955 1170,952 1180,955 1190,950 1200,952 1210,948 1220,950 1230,952 1240,950 1250,955 1260,950 1270,955 1280,950 1290,955 1300,952 1310,950 1320,955 1330,948 1340,952 1350,950 1360,948 1370,945 1380,950 1390,948 1400,945 1410,950 1418,952"/>
</g></g>
<path d="M524.5 1000V1180" stroke="#000" stroke-width="1" stroke-dasharray="3.5 1.5" fill="none"/>
<g clip-path="url(#tL)"><g transform="matrix(0.36782 0 0 0.36782 0 815.8)">
<path class="c" d="M1395,960L1400,900 1405,820 1410,805 1415,830 1420,880 1425,900 1440,930 1460,945 1500,952 1550,958 1570,962"/>
<path class="f" d="M298,944L320,942 350,938 370,930 385,905 400,880 415,858 430,845 435,840 440,845 455,850 465,870 480,900 495,930 510,950 525,958 540,958 560,955 580,948 600,940 630,925 660,910 690,905 720,898 750,895 780,888 810,880 840,872 870,860 890,845 905,830 918,825 930,835 940,855 955,875 970,885 1000,895 1030,902 1060,905 1090,905 1120,905 1140,900 1160,885 1175,865 1185,862 1195,868 1205,890 1215,905 1225,910 1240,905 1260,895 1280,885 1300,880 1320,870 1335,845 1350,790 1360,750 1368,748 1375,780 1385,845 1400,895 1410,920 1420,928 1428,925 1435,880 1440,858 1445,855 1455,870 1465,888 1480,880 1495,895 1510,915 1530,925 1550,930 1570,932"/>
</g></g>
<g clip-path="url(#tR)"><g transform="matrix(0.36782 0 0 0.36782 576.7 815.8)">
<path class="c" d="M0,965L15,962 25,950 40,940 55,935 70,915 80,897 90,905 100,920 110,930 120,935 130,932 140,920 150,915"/>
<path class="f" d="M0,932L10,935 20,945 30,955 40,940 50,910 60,905 70,910 85,915 100,922 115,925 125,930 135,915 142,905 150,915 160,935 170,945 185,948 200,935 215,905 230,885 240,888 250,905 265,925 280,935 290,932 300,930 310,935 320,945 340,948 360,950 380,950 385,940 400,940 420,942 440,930 460,920 480,912 500,908 520,905 540,895 560,885 580,882 600,890 620,898 640,895 660,892 680,890 700,893 720,900 740,908 760,915 780,922 800,926 820,925 840,918 870,912 900,905 930,898 960,888 990,880 1010,872 1030,850 1050,838 1065,825 1080,828 1090,828 1095,840 1100,870 1108,890 1115,895 1125,880 1135,875 1145,877 1160,875 1170,885 1180,900 1190,915 1210,930 1230,940 1260,950 1290,955 1320,955 1350,950 1380,944 1400,945 1418,946"/>
</g></g>
</g>

<!-- ================= PANEL B3 ================= -->
<g clip-path="url(#cB3)">
<rect x="512.4" y="1178" width="119.5" height="180" fill="#eaf4ea"/>
<g clip-path="url(#tL)"><g transform="matrix(0.36782 0 0 0.36782 0 815.8)">
<path class="o" d="M298,1405L305,1410 310,1405 315,1430 320,1415 325,1440 330,1430 335,1445 340,1435 345,1445 350,1440 355,1445 360,1440 370,1445 380,1447 390,1445 395,1430 400,1440 405,1425 410,1435 415,1420 420,1425 425,1430 430,1420 435,1410 440,1430 445,1420 450,1400 455,1405 460,1385 465,1400 470,1360 475,1390 480,1370 485,1345 488,1380 492,1270 495,1340 498,1310 502,1390 506,1410 510,1380 515,1395 520,1420 525,1430 530,1410 535,1395 540,1380 545,1400 550,1390 555,1410 560,1395 565,1385 570,1400 575,1390 580,1385 585,1395 590,1380 595,1390 600,1385 605,1370 610,1360 615,1385 620,1340 622,1330 625,1350 630,1325 635,1345 640,1340 645,1360 650,1345 655,1355 660,1350 665,1370 670,1410 675,1420 680,1430 685,1425 690,1420 695,1415 700,1425 705,1410 710,1390 715,1400 720,1410 725,1420 730,1430 735,1425 740,1440 745,1445 750,1440 755,1435 760,1445 770,1440 780,1448 790,1440 800,1430 805,1400 810,1380 815,1395 820,1400 825,1390 830,1395 835,1400 840,1405 845,1415 850,1405 860,1410 870,1395 875,1390 880,1410 890,1420 900,1430 910,1425 920,1432 930,1440 940,1435 950,1430 960,1440 970,1435 980,1440 990,1435 1000,1430 1010,1440 1020,1430 1030,1440 1040,1425 1050,1435 1060,1430 1070,1420 1080,1415 1090,1420 1100,1410 1110,1415 1120,1405 1130,1420 1140,1410 1150,1405 1160,1395 1165,1380 1170,1365 1175,1385 1180,1380 1185,1390 1190,1395 1200,1405 1210,1410 1215,1420 1220,1440 1230,1445 1240,1440 1250,1442 1260,1435 1270,1440 1280,1432 1290,1438 1300,1430 1310,1425 1320,1435 1330,1440 1340,1445M1350,1410L1360,1400 1370,1405 1380,1395 1385,1390 1390,1400 1395,1410 1400,1420 1410,1430 1420,1420 1425,1410 1430,1380 1435,1330 1440,1300 1445,1335 1450,1320 1455,1340 1460,1350 1465,1355 1470,1365 1475,1370 1480,1380 1485,1375 1490,1390 1495,1400 1500,1410 1510,1420 1520,1430 1530,1440 1540,1445 1550,1440 1560,1445 1570,1440"/>
</g></g>
<g clip-path="url(#tR)"><g transform="matrix(0.36782 0 0 0.36782 576.7 815.8)">
<path class="o" d="M0,1420L5,1440 10,1445 15,1430 20,1445 25,1440 30,1445 35,1435 40,1420 43,1400 46,1445 50,1440 60,1445 70,1440 80,1442 90,1438 100,1440 110,1445 120,1442 130,1438 140,1445 150,1442 160,1448 170,1445 180,1440 190,1445 200,1440 210,1442 220,1440 230,1438 240,1435 250,1440 260,1435 270,1430 280,1438 290,1430 300,1435 310,1425 320,1430 330,1420 340,1425 350,1415 355,1410 360,1430 365,1420 370,1430 375,1435 380,1440 390,1442 400,1440 410,1445 420,1445 430,1442 440,1445 450,1448 460,1446 470,1448 480,1445 490,1447 500,1445 510,1448 520,1445 530,1446 540,1444 550,1446 560,1442 570,1445 580,1440 590,1445 600,1442 610,1446 620,1440 630,1444 636,1440 640,1435 650,1445 660,1442 670,1440 680,1445 690,1440 700,1442 710,1440 720,1443 730,1440 740,1442 750,1438 760,1440 770,1435 775,1430 780,1425 785,1410 790,1400 795,1410 800,1395 805,1420 810,1410 815,1380 818,1425 820,1410 825,1420 830,1415 835,1425 840,1430 845,1400 848,1390 852,1420 856,1410 860,1420 865,1415 870,1425 875,1420 880,1430 885,1425 890,1435 895,1430 900,1425 905,1420 910,1415 915,1430 920,1440 925,1435 930,1440 935,1438 940,1442 950,1445 960,1442 970,1440 980,1435 985,1420 990,1425 995,1390 998,1420 1002,1385 1005,1410 1010,1395 1015,1405 1020,1400 1025,1420 1028,1380 1032,1300 1036,1220 1040,1240 1043,1280 1046,1270 1050,1330 1055,1310 1060,1350 1065,1340 1070,1360 1075,1330 1080,1360 1085,1340 1090,1380 1095,1350 1100,1370 1105,1330 1110,1360 1115,1350 1120,1370 1125,1340 1130,1360 1135,1320 1140,1370 1145,1350 1150,1300 1155,1360 1160,1340 1165,1370 1170,1360 1175,1380 1180,1360 1185,1370 1190,1340 1195,1390 1200,1360 1205,1370 1210,1350 1215,1330 1220,1360 1225,1380 1230,1360 1235,1380 1240,1370 1245,1390 1250,1370 1255,1380 1260,1360 1265,1375 1270,1355 1275,1390 1280,1395 1285,1400 1290,1410 1295,1405 1300,1415 1305,1400 1310,1410 1315,1420 1320,1405 1325,1410 1330,1400 1335,1415 1340,1405 1345,1410 1350,1400 1355,1415 1360,1410 1365,1420 1370,1405 1375,1415 1380,1410 1385,1400 1390,1410 1395,1420 1400,1405 1405,1425 1410,1400 1418,1420"/>
</g></g>
<path d="M524.5 1178V1355" stroke="#000" stroke-width="1" stroke-dasharray="3.5 1.5" fill="none"/>
<g clip-path="url(#tL)"><g transform="matrix(0.36782 0 0 0.36782 0 815.8)">
<path class="c" d="M1390,1380L1395,1360 1400,1200 1403,980 1440,980 1445,1060 1450,1100 1460,1150 1475,1200 1490,1240 1505,1275 1520,1300 1535,1320 1550,1335 1570,1345"/>
<path class="f" d="M298,1418L330,1418 360,1416 380,1417 390,1410 400,1395 410,1385 420,1382 430,1372 440,1365 455,1362 465,1355 475,1345 485,1340 492,1345 500,1360 510,1380 520,1400 535,1415 560,1422 590,1425 620,1425 650,1420 680,1415 710,1414 740,1413 780,1414 820,1413 860,1410 890,1408 905,1405 920,1395 940,1390 960,1390 980,1395 1000,1403 1020,1405 1050,1405 1080,1410 1110,1411 1140,1410 1160,1408 1180,1400 1195,1388 1210,1388 1230,1395 1250,1398 1270,1393 1290,1388 1320,1388 1340,1390 1355,1380 1365,1375 1375,1362 1385,1362 1395,1375 1405,1385 1415,1395 1422,1398 1428,1385 1432,1340 1437,1240 1445,1215 1452,1205 1458,1220 1465,1260 1475,1300 1490,1330 1505,1352 1515,1355 1530,1345 1545,1330 1570,1310"/>
</g></g>
<g clip-path="url(#tR)"><g transform="matrix(0.36782 0 0 0.36782 576.7 815.8)">
<path class="c" d="M0,1320L10,1330 20,1320 30,1310 40,1300 50,1295 55,1305 60,1330 65,1360 75,1368 90,1365 100,1362 110,1360 120,1358 125,1360"/>
<path class="f" d="M0,1310L10,1290 20,1260 28,1240 33,1235 38,1280 43,1350 50,1385 60,1390 80,1385 95,1368 110,1365 120,1360 125,1365 135,1380 145,1388 155,1375 170,1355 185,1352 195,1365 205,1385 220,1395 235,1380 250,1350 260,1330 272,1325 280,1340 290,1365 300,1390 315,1395 330,1395 350,1400 370,1395 380,1390 382,1412 400,1408 420,1398 440,1410 460,1410 500,1405 540,1402 580,1400 600,1395 620,1390 640,1395 660,1398 700,1400 740,1400 770,1402 800,1405 830,1415 860,1418 900,1418 940,1416 980,1414 1010,1412 1030,1405 1050,1395 1070,1390 1090,1382 1110,1362 1120,1370 1130,1378 1140,1372 1150,1370 1160,1372 1175,1368 1190,1360 1205,1355 1215,1360 1230,1375 1250,1390 1280,1395 1310,1402 1340,1410 1370,1415 1400,1418 1418,1415"/>
</g></g>
</g>

<!-- ================= PANEL B4 ================= -->
<g clip-path="url(#cB4)">
<rect x="512.4" y="1355" width="119.5" height="180" fill="#eaf4ea"/>
<g clip-path="url(#tL)"><g transform="matrix(0.36782 0 0 0.23443 0 1336.2)">
<path class="o" d="M298,540L300,380 304,420 308,370 312,450 316,400 320,440 324,500 328,420 332,480 336,540 340,510 344,560 348,520 352,460 356,540 360,500 364,560 368,480 372,500 376,520 380,510 384,540 388,500 392,560 395,520M400,420L404,330 408,350 412,320 416,360 420,340 424,400 428,360 432,380 436,400 440,420 444,350 448,400 452,420 456,380 460,330 463,300 466,390 470,420 474,460 478,400 482,480 486,440 490,400 494,500 498,520 502,450 506,480 510,420 514,480 518,500 522,460 526,540 530,500 534,450 538,480 542,520 546,440 550,480 554,430 558,500 562,460 566,420 570,480 574,500 578,440 582,540 586,460 590,420 594,470 598,440 602,400 606,440 610,400 614,380 618,460 622,500 626,520 630,460 634,520 638,540 642,480 646,500 650,440 654,520 658,500 662,460 666,480 670,440 674,420 678,470 682,400 686,450 690,410 694,380 698,360 702,420 706,380 710,420 714,380 718,440 722,400 726,380 730,420 734,360 738,400 742,440 746,420 750,460 754,430 758,470 762,440 766,480 770,450 774,490 778,450 782,470 786,430 790,440 794,420 798,500 802,520 806,500 810,540 814,520 818,560 822,530 826,500 830,560 834,520 838,500 842,540 846,510 850,480 854,520 858,500 862,540 866,520 870,500 874,540 878,460 882,520 886,500 890,540 894,560 898,520 902,580 906,560 910,600 914,580 918,610 922,590 926,560 930,600 934,580 938,560 942,590 946,620 950,600 954,570 958,520 962,500 966,480 970,540 974,560 978,480 982,440 986,400 990,420 994,380 998,420 1002,400 1006,440 1010,380 1014,420 1018,400 1022,440 1026,430 1030,420 1034,400 1038,440 1042,420 1046,400 1050,430 1054,410 1058,440 1062,420 1066,400 1070,380 1074,420 1078,400 1082,380 1086,420 1090,360 1094,380 1098,400 1102,350 1106,380 1110,360 1114,320 1118,340 1122,300 1126,320 1130,290 1134,310 1138,300 1142,320 1146,310 1150,300 1154,310 1158,320 1162,340 1166,350 1170,340 1174,380 1178,360 1182,350 1186,460 1190,400 1194,480 1198,420 1202,380 1206,440 1210,400 1214,460 1218,420 1222,440 1226,400 1230,460 1234,420 1238,400 1242,440 1246,420 1250,460 1254,380 1258,400 1262,440 1266,420 1270,400 1274,440 1278,460 1282,480 1286,460 1290,520 1294,540 1298,520 1302,560 1306,540 1310,520 1314,560 1318,540 1322,480 1326,520 1330,580 1334,560 1338,520 1342,540 1346,520 1350,480 1354,540 1358,400 1362,520 1366,500 1370,560 1374,520 1378,500 1382,540 1386,520 1390,560 1394,540 1398,600 1402,540 1406,480 1410,520 1414,440 1418,500 1422,460 1426,520 1430,620 1434,680 1436,520 1440,330 1444,420 1448,380 1452,460 1456,400 1460,500 1464,360 1468,440 1472,380 1476,460 1480,420 1484,500 1488,440 1492,480 1496,420 1500,460 1504,500 1508,460 1512,380 1516,440 1520,360 1524,420 1528,480 1532,440 1536,400 1540,360 1544,420 1548,400 1552,440 1556,460 1560,520 1564,500 1570,540"/>
</g></g>
<g clip-path="url(#tR)"><g transform="matrix(0.36782 0 0 0.23443 576.7 1336.2)">
<path class="o" d="M0,545L5,520 10,540 15,510 20,530 25,500 30,520 35,490 40,530 45,500 50,520 55,480 60,510 65,520 70,500 75,530 80,520 85,480 90,450 95,480 100,470 105,520 110,500 115,530 120,510 125,540 130,560 135,520 140,560 145,510 150,540 155,520 160,570 165,540 170,520 175,560 180,520 185,540 190,510 195,560 200,540 205,500 210,520 215,480 220,530 225,500 230,510 235,470 240,420 243,380 246,460 250,520 255,500 260,480 265,520 270,540 275,500 280,540 285,560 290,530 295,550 300,520 305,560 310,540 315,500 320,480 325,440 330,380 335,400 340,430 345,380 350,420 355,400 360,480 365,420 370,500 375,440 380,400 385,460 390,420 395,500 400,480 405,520 410,540 415,520 420,500 425,540 430,520 435,540 440,500 445,530 450,510 455,480 460,520 465,500 470,480 475,510 480,520 485,560 490,530 495,570 500,540 505,510 510,520 515,480 520,440 525,380 530,400 535,360 540,420 545,340 550,380 555,400 560,440 565,390 570,420 575,380 580,400 585,360 590,340 595,380 600,400 605,380 610,420 615,380 620,440 625,400 630,380 635,420 640,400 645,420 650,380 655,400 660,360 665,420 670,400 675,440 680,380 685,420 690,400 695,380 700,420 705,400 710,360 715,380 720,400 725,360 730,420 735,380 740,340 745,380 750,360 755,400 760,360 765,380 770,320 775,270 778,320 782,300 786,360 790,380 795,320 800,360 805,380 810,340 815,400 820,480 825,380 830,290 835,360 840,380 845,350 850,370 855,360 860,380 865,350 870,370 875,350M880,420L885,400 890,440 895,380 900,420 905,400 910,440 915,420 920,540 925,380 930,420 935,350 940,400 945,440 950,420 955,440 960,480 965,420 970,500 975,450 980,470 985,500 990,480 995,520 1000,580 1005,540 1010,600 1013,620 1016,540 1020,400 1023,480 1026,540 1029,600 1032,235 1035,360 1040,400 1045,320 1050,380 1055,360 1060,300 1065,280 1068,340 1072,460 1076,420 1080,400 1085,440 1090,600 1095,420 1100,380 1105,360 1110,320 1115,380 1120,420 1125,380 1130,400 1135,440 1140,360 1145,320 1150,420 1155,560 1160,440 1165,380 1170,400 1175,440 1180,360 1185,340 1190,400 1195,380 1200,420 1205,350 1210,380 1215,360 1220,400 1225,380 1230,420 1235,360 1240,440 1245,400 1250,380 1255,420 1260,360 1265,380 1270,400 1275,380 1280,520 1285,400 1290,360 1295,380 1300,420 1305,360 1310,400 1315,380 1320,360 1325,400 1330,380 1335,360 1340,400 1345,420 1350,380 1355,530 1360,400 1365,380 1370,420 1375,360 1380,400 1385,480 1390,420 1395,370 1400,380 1405,360 1410,430 1414,370 1418,380"/>
</g></g>
<path d="M524.5 1355V1530" stroke="#000" stroke-width="1" stroke-dasharray="3.5 1.5" fill="none"/>
<g clip-path="url(#tL)"><g transform="matrix(0.36782 0 0 0.23443 0 1336.2)">
<path class="c" d="M1395,560L1400,580 1405,600 1410,560 1415,480 1420,450 1430,445 1450,450 1480,452 1520,455 1570,458"/>
<path class="f" d="M298,390L320,395 350,402 375,408 390,420 405,440 415,445 425,440 432,400 437,365 442,385 450,405 460,420 470,440 478,480 486,530 495,580 505,600 515,605 525,600 540,590 555,575 570,560 585,548 600,540 615,535 630,525 650,510 670,503 700,500 740,500 780,498 820,496 850,495 870,500 880,506 895,512 905,510 915,490 925,478 932,480 940,485 950,475 960,460 975,445 990,435 1010,428 1030,425 1050,422 1060,413 1070,408 1085,405 1100,403 1120,402 1140,398 1155,390 1165,382 1172,385 1180,410 1188,455 1195,470 1205,485 1215,505 1225,500 1235,490 1250,470 1265,450 1280,445 1290,442 1300,445 1310,455 1320,470 1335,490 1345,500 1355,480 1360,465 1368,490 1375,480 1382,485 1390,510 1400,540 1410,550 1420,548 1428,542 1434,550 1438,580 1442,598 1448,585 1455,550 1465,520 1475,495 1490,470 1505,460 1520,465 1535,480 1550,487 1570,488"/>
</g></g>
<g clip-path="url(#tR)"><g transform="matrix(0.36782 0 0 0.23443 576.7 1336.2)">
<path class="c" d="M0,460L20,460 40,458 50,440 60,430 70,410 80,397 90,400 100,398 110,400"/>
<path class="f" d="M0,488L10,480 20,465 30,440 40,425 50,440 60,440 70,425 80,410 90,405 100,400 110,403 120,410 130,415 140,405 150,410 165,405 180,410 195,405 210,398 220,405 230,430 240,452 250,440 265,432 280,425 290,410 300,385 315,372 330,370 350,375 370,380 400,387 430,395 460,405 490,410 510,412 525,420 540,440 560,460 575,465 585,455 595,440 605,450 620,458 640,462 660,463 680,462 700,458 715,455 730,465 750,480 770,495 790,508 810,515 830,515 850,505 870,495 890,490 910,488 930,487 960,486 990,485 1020,484 1045,480 1060,475 1075,460 1090,430 1110,412 1130,408 1150,425 1160,428 1175,420 1195,418 1215,410 1230,400 1245,385 1260,375 1275,372 1300,373 1330,375 1360,378 1385,382 1400,380 1418,380"/>
</g></g>
</g>

<!-- ================= FRAMES & TICKS ================= -->
<g fill="none" stroke="#444" stroke-width="1.2">
<rect x="67.5" y="1.9" width="1080" height="172.1"/>
<rect x="67.5" y="183" width="1080" height="172.6"/>
<rect x="67.5" y="364.2" width="1080" height="172.6"/>
<rect x="67.5" y="545.3" width="1080" height="173.1"/>
<rect x="61.4" y="830.9" width="1085.6" height="167"/>
<rect x="61.4" y="1007.1" width="1085.6" height="167.4"/>
<rect x="61.4" y="1183.3" width="1085.6" height="167.7"/>
<rect x="61.4" y="1359.5" width="1085.6" height="167.8"/>
</g>
<use href="#axM" y="174"/><use href="#axm" y="174"/>
<use href="#axM" y="355.6"/><use href="#axm" y="355.6"/>
<use href="#axM" y="536.8"/><use href="#axm" y="536.8"/>
<use href="#axM" y="718.4"/><use href="#axm" y="718.4"/>
<use href="#bxM" y="997.9"/><use href="#bxm" y="997.9"/>
<use href="#bxM" y="1174.5"/><use href="#bxm" y="1174.5"/>
<use href="#bxM" y="1351"/><use href="#bxm" y="1351"/>
<use href="#bxM" y="1527.3"/><use href="#bxm" y="1527.3"/>
<use href="#yaM" transform="translate(67.5 0)"/><use href="#yam" transform="translate(67.5 0)"/>
<use href="#yaM" transform="translate(1147.5 0) scale(-1 1)"/><use href="#yam" transform="translate(1147.5 0) scale(-1 1)"/>
<use href="#ybM" transform="translate(61.4 0)"/><use href="#ybm" transform="translate(61.4 0)"/>
<use href="#ybM" transform="translate(1147 0) scale(-1 1)"/><use href="#ybm" transform="translate(1147 0) scale(-1 1)"/>

<!-- ================= TICK LABELS ================= -->
<g class="tl" fill="#000" text-anchor="end">
<text x="64.2" y="149.9">400</text><text x="64.2" y="112.2">600</text><text x="64.2" y="74.5">800</text><text x="64.2" y="36.8">1000</text>
<text x="64.2" y="350.5">0</text><text x="64.2" y="307.9">25</text><text x="64.2" y="265.3">50</text><text x="64.2" y="222.7">75</text>
<text x="64.2" y="532">0</text><text x="64.2" y="464.1">2</text><text x="64.2" y="396.2">4</text>
<text x="64.2" y="709">−20</text><text x="64.2" y="673">−10</text><text x="64.2" y="637">0</text><text x="64.2" y="601">10</text><text x="64.2" y="565">20</text>
<text x="58.1" y="987">300</text><text x="58.1" y="953.45">400</text><text x="58.1" y="919.9">500</text><text x="58.1" y="886.35">600</text><text x="58.1" y="852.8">700</text>
<text x="58.1" y="1179.8">0</text><text x="58.1" y="1129">20</text><text x="58.1" y="1078.2">40</text><text x="58.1" y="1027.4">60</text>
<text x="58.1" y="1356.3">0.0</text><text x="58.1" y="1319">0.2</text><text x="58.1" y="1281.7">0.4</text><text x="58.1" y="1244.4">0.6</text><text x="58.1" y="1207.1">0.8</text>
<text x="58.1" y="1508.7">−10</text><text x="58.1" y="1448.7">0</text><text x="58.1" y="1388.7">10</text>
</g>
<g class="tl" fill="#000" text-anchor="middle">
<text x="129.7" y="733.7">18/06</text><text x="274.1" y="733.7">22/06</text><text x="418.5" y="733.7">26/06</text><text x="562.9" y="733.7">30/06</text><text x="707.3" y="733.7">04/07</text><text x="851.7" y="733.7">08/07</text><text x="996.1" y="733.7">12/07</text><text x="1140.5" y="733.7">16/07</text>
<text x="87.9" y="1542.5">28/11</text><text x="232.5" y="1542.5">02/12</text><text x="377.1" y="1542.5">06/12</text><text x="521.7" y="1542.5">10/12</text><text x="666.3" y="1542.5">14/12</text><text x="810.9" y="1542.5">18/12</text><text x="955.5" y="1542.5">22/12</text><text x="1100.1" y="1542.5">26/12</text>
</g>

<!-- ================= AXIS LABELS ================= -->
<g font-size="17.5" fill="#000" text-anchor="middle">
<text x="607.5" y="758.3">Days of year 2015</text>
<text x="604.3" y="1567.2">Days of year 2020</text>
<text transform="translate(17.5 88) rotate(-90)"><tspan font-style="italic">V</tspan><tspan font-size="12.5" font-style="italic" dy="3.5">r</tspan><tspan dy="-3.5"> (km/s)</tspan></text>
<text transform="translate(17.5 269.3) rotate(-90)">Density (N<tspan font-size="12.5" font-style="italic" dy="3.5">p</tspan><tspan dy="-3.5">/cc)</tspan></text>
<text transform="translate(17.5 450.5) rotate(-90)">Temp. (MK)</text>
<text transform="translate(17.5 631.9) rotate(-90)">B<tspan font-size="12.5" font-style="italic" dy="3.5">r</tspan><tspan dy="-3.5"> (nT)</tspan></text>
<text transform="translate(17 914.4) rotate(-90)"><tspan font-style="italic">V</tspan><tspan font-size="12.5" font-style="italic" dy="3.5">r</tspan><tspan dy="-3.5"> (km/s)</tspan></text>
<text transform="translate(17 1090.8) rotate(-90)">Density (N<tspan font-size="12.5" font-style="italic" dy="3.5">p</tspan><tspan dy="-3.5">/cc)</tspan></text>
<text transform="translate(17 1267.2) rotate(-90)">Temp. (MK)</text>
<text transform="translate(17 1443.4) rotate(-90)">B<tspan font-size="12.5" font-style="italic" dy="3.5">r</tspan><tspan dy="-3.5"> (nT)</tspan></text>
</g>

<!-- ================= PANEL LABELS ================= -->
<g font-size="17.6" fill="#000">
<text x="101" y="36.4">(a1)</text>
<text x="101" y="217.5">(a2)</text>
<text x="101" y="398.7">(a3)</text>
<text x="101" y="579.8">(a4)</text>
<text x="94.9" y="864.4">(a1)</text>
<text x="94.9" y="864.4">(b1)</text>
<text x="94.9" y="1040.6">(b2)</text>
<text x="94.9" y="1216.8">(b3)</text>
<text x="94.9" y="1393">(b4)</text>
</g>

<!-- ================= STATS ================= -->
<g class="st">
<g fill="#008080" fill-opacity="0.8">
<text x="640.7" y="27.1">cc = 0.68</text><text x="748.3" y="27.1">rmse = 185.75</text>
<text x="640.7" y="208.2">cc = 0.13</text><text x="748.3" y="208.2">rmse = 10.18</text>
<text x="640.7" y="389.4">cc = 0.12</text><text x="748.3" y="389.4">rmse = 0.55</text>
<text x="640.7" y="570.8">cc = 0.44</text><text x="748.3" y="570.8">rmse = 3.78</text>
<text x="637.4" y="856">cc = 0.46</text><text x="745.9" y="856">rmse = 79.54</text>
<text x="637.4" y="1032.3">cc = 0.12</text><text x="745.9" y="1032.3">rmse = 7.73</text>
<text x="637.4" y="1208.5">cc = 0.28</text><text x="745.9" y="1208.5">rmse = 0.18</text>
<text x="637.4" y="1384.5">cc = 0.15</text><text x="745.9" y="1384.5">rmse = 3.22</text>
</g>
<g fill="#0000FF" fill-opacity="0.8">
<text x="910.8" y="27.1">cc = 0.78</text><text x="1018.9" y="27.1">rmse = 71.66</text>
<text x="910.8" y="208.2">cc = 0.48</text><text x="1018.9" y="208.2">rmse = 6.91</text>
<text x="910.8" y="389.4">cc = 0.48</text><text x="1018.9" y="389.4">rmse = 0.30</text>
<text x="910.8" y="570.8">cc = 0.50</text><text x="1018.9" y="570.8">rmse = 3.64</text>
<text x="908.5" y="856">cc = 0.48</text><text x="1017.4" y="856">rmse = 78.00</text>
<text x="908.5" y="1032.3">cc = 0.13</text><text x="1017.4" y="1032.3">rmse = 7.68</text>
<text x="908.5" y="1208.5">cc = 0.23</text><text x="1017.4" y="1208.5">rmse = 0.10</text>
<text x="908.5" y="1384.5">cc = 0.15</text><text x="1017.4" y="1384.5">rmse = 3.26</text>
</g>
</g>

<!-- ================= LEGENDS ================= -->
<text x="1217.3" y="252" font-size="20.7" text-anchor="middle" fill="#000">CR2165</text>
<rect x="1157.6" y="266" width="119.4" height="226" rx="3" ry="3" fill="#fff" stroke="#cfcfcf" stroke-width="0.9"/>
<g fill="none">
<path d="M1164 280.6H1203" stroke="#CD853F" stroke-width="1"/>
<path d="M1164 308.4H1203" stroke="#008080" stroke-width="2.3"/>
<path d="M1164 336.2H1203" stroke="#0000FF" stroke-width="2.8"/>
<path d="M1164 364H1203" stroke="#FF00FF" stroke-width="1" stroke-dasharray="3.5 1.5"/>
<path d="M1164 391.8H1203" stroke="#800080" stroke-width="1" stroke-dasharray="3.5 1.5"/>
<path d="M1164 419.6H1203" stroke="#008000" stroke-width="1" stroke-dasharray="3.5 1.5"/>
<path d="M1164 447.4H1203" stroke="#DC143C" stroke-width="1" stroke-dasharray="3.5 1.5"/>
<path d="M1164 475.2H1203" stroke="#000080" stroke-width="1" stroke-dasharray="3.5 1.5"/>
</g>
<g font-size="18.5" fill="#000">
<text x="1217" y="287.3">OMNI</text>
<text x="1217" y="315.1">Cone</text>
<text x="1217" y="342.9">FR</text>
<text x="1217" y="370.7">CME1</text>
<text x="1217" y="398.5">CME2</text>
<text x="1217" y="426.3">CME3</text>
<text x="1217" y="454.1">CME4</text>
<text x="1217" y="481.9">CME5</text>
</g>

<text x="1217.3" y="1123" font-size="20.7" text-anchor="middle" fill="#000">CR2238</text>
<rect x="1157" y="1137" width="120" height="115.3" rx="3" ry="3" fill="#fff" stroke="#cfcfcf" stroke-width="0.9"/>
<g fill="none">
<path d="M1164 1151.8H1203" stroke="#CD853F" stroke-width="1"/>
<path d="M1164 1179.2H1203" stroke="#008080" stroke-width="2.3"/>
<path d="M1164 1207.8H1203" stroke="#0000FF" stroke-width="2.8"/>
<path d="M1164 1235.4H1203" stroke="#000" stroke-width="1" stroke-dasharray="3.5 1.5"/>
</g>
<g font-size="18.5" fill="#000">
<text x="1217" y="1158.5">OMNI</text>
<text x="1217" y="1185.9">Cone</text>
<text x="1217" y="1214.5">FR</text>
<text x="1217" y="1242.1">CME6</text>
</g>
</svg>
</body></html>
